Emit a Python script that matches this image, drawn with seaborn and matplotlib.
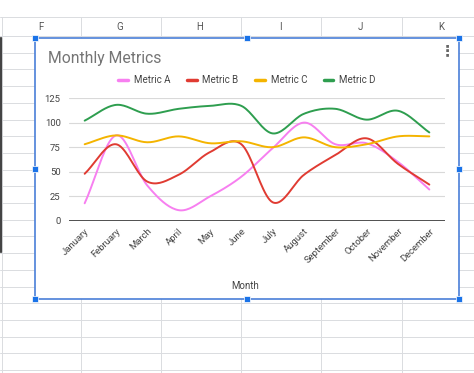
import numpy as np
import pandas as pd
import matplotlib
matplotlib.use("Agg")
import matplotlib.pyplot as plt
import seaborn as sns
from matplotlib.patches import Rectangle
from matplotlib.lines import Line2D

# data
months = ["January", "February", "March", "April", "May", "June", "July",
          "August", "September", "October", "November", "December"]
metric_a = [18, 87, 36, 11, 25, 45, 74, 100, 78, 79, 60, 32]
metric_b = [48, 78, 40, 47, 70, 78, 19, 47, 67, 84, 58, 37]
metric_c = [78, 87, 80, 86, 79, 81, 75, 85, 75, 78, 86, 86]
metric_d = [102, 118, 109, 114, 117, 117, 89, 109, 114, 103, 112, 90]
series_names = ["Metric A", "Metric B", "Metric C", "Metric D"]
colors = ["#f77ff0", "#e03b32", "#f4b400", "#2e9e4f"]
y_ticks = [0, 25, 50, 75, 100, 125]
sheet_cols = ["F", "G", "H", "I", "J", "K"]


def smooth(y, steps=20):
    # catmull-rom curve through the points, like the sheets "smooth" option
    y = np.asarray(y, dtype=float)
    p = np.concatenate([[2 * y[0] - y[1]], y, [2 * y[-1] - y[-2]]])
    xs, ys = [], []
    for i in range(len(y) - 1):
        p0, p1, p2, p3 = p[i], p[i + 1], p[i + 2], p[i + 3]
        t = np.linspace(0, 1, steps, endpoint=False)
        v = 0.5 * (2 * p1 + (-p0 + p2) * t + (2 * p0 - 5 * p1 + 4 * p2 - p3) * t ** 2
                   + (-p0 + 3 * p1 - 3 * p2 + p3) * t ** 3)
        xs.extend(i + t)
        ys.extend(v)
    xs.append(len(y) - 1)
    ys.append(y[-1])
    return np.array(xs), np.array(ys)


rows = []
for name, vals in zip(series_names, [metric_a, metric_b, metric_c, metric_d]):
    sx, sy = smooth(vals)
    rows.append(pd.DataFrame({"x": sx, "value": sy, "series": name}))
df = pd.concat(rows, ignore_index=True)

sns.set_theme(style="white")
plt.rcParams["font.family"] = ["Roboto", "DejaVu Sans"]

W, H = 474, 373
fig = plt.figure(figsize=(W / 100, H / 100), dpi=100)


def px(x, y):
    return x / W, 1 - y / H


# ---- spreadsheet background ----
grid_c = "#dadce0"
col_x = [2, 81, 161, 241, 321, 402]
for cx in col_x + [474]:
    fig.lines.append(Line2D([cx / W] * 2, [px(0, 17)[1], 0], transform=fig.transFigure,
                            color=grid_c, lw=0.7, zorder=0))
for ry in [17, 36] + list(np.arange(36, 380, 16.7)):
    fig.lines.append(Line2D([0, 1], [px(0, ry)[1]] * 2, transform=fig.transFigure,
                            color=grid_c, lw=0.7, zorder=0))
for lab, cx in zip(sheet_cols, col_x):
    x0, y0 = px(cx + 39, 27)
    fig.text(x0, y0, lab, ha="center", va="center", fontsize=7, color="#555555")
fig.lines.append(Line2D([1 / W] * 2, [px(0, 38)[1], px(0, 252)[1]], transform=fig.transFigure,
                        color="#444444", lw=1.6, zorder=1))

# ---- chart box ----
bx0, by0, bx1, by1 = 35, 38, 459, 299
fig.patches.append(Rectangle(px(bx0, by1), (bx1 - bx0) / W, (by1 - by0) / H,
                             transform=fig.transFigure, facecolor="white",
                             edgecolor="#4a7fd8", lw=1.2, zorder=2))
mid_x, mid_y = (bx0 + bx1) / 2, (by0 + by1) / 2
for hx in [bx0, mid_x, bx1]:
    for hy in [by0, mid_y, by1]:
        if hx == mid_x and hy == mid_y:
            continue
        fig.patches.append(Rectangle(px(hx - 3, hy + 3), 6 / W, 6 / H,
                                     transform=fig.transFigure, facecolor="#1a73e8",
                                     edgecolor="white", lw=0.5, zorder=3))

tx, ty = px(48, 59)
fig.text(tx, ty, "Monthly Metrics", ha="left", va="center", fontsize=11.3,
         color="#757575", zorder=4)
mx, my = px(447, 51)
fig.text(mx, my, "⋮", ha="center", va="center", fontsize=11, color="#666666",
         fontweight="bold", family=["DejaVu Sans"], zorder=4)

# ---- plot ----
ax = fig.add_axes([69 / W, 1 - 221 / H, 376 / W, 123 / H], zorder=5)
ax.patch.set_alpha(0)
sns.lineplot(data=df, x="x", y="value", hue="series", palette=colors, sort=False,
             estimator=None, lw=1.4, ax=ax, legend=False)

ax.set_xlim(-0.5, 11.5)
ax.set_ylim(0, 125)
ax.set_yticks(y_ticks)
ax.set_yticklabels([str(t) for t in y_ticks])
ax.set_xticks(range(len(months)))
ax.set_xticklabels(months, rotation=45, ha="right", rotation_mode="anchor")
ax.tick_params(axis="x", labelsize=6.8, colors="#444444", length=0, pad=4)
ax.tick_params(axis="y", labelsize=6.8, colors="#444444", length=0, pad=6)
ax.grid(axis="y", color="#d9d9d9", lw=0.8)
ax.axhline(0, color="#333333", lw=1.2, zorder=3)
for s in ax.spines.values():
    s.set_visible(False)
ax.set_xlabel("Month", fontsize=7, color="#444444", labelpad=0)
ax.xaxis.set_label_coords((245 - 69) / 376, -(281 - 221) / 123)
ax.set_ylabel("")

handles = [Line2D([], [], color=c, lw=2.5) for c in colors]
ax.legend(handles, series_names, loc="center", bbox_to_anchor=((247 - 69) / 376, 1 + (221 - 80 - 123) / 123),
          ncol=4, frameon=False, fontsize=7, handlelength=1.0, handletextpad=0.6,
          columnspacing=1.7, labelcolor="#444444")

fig.savefig("out.png", dpi=100)
